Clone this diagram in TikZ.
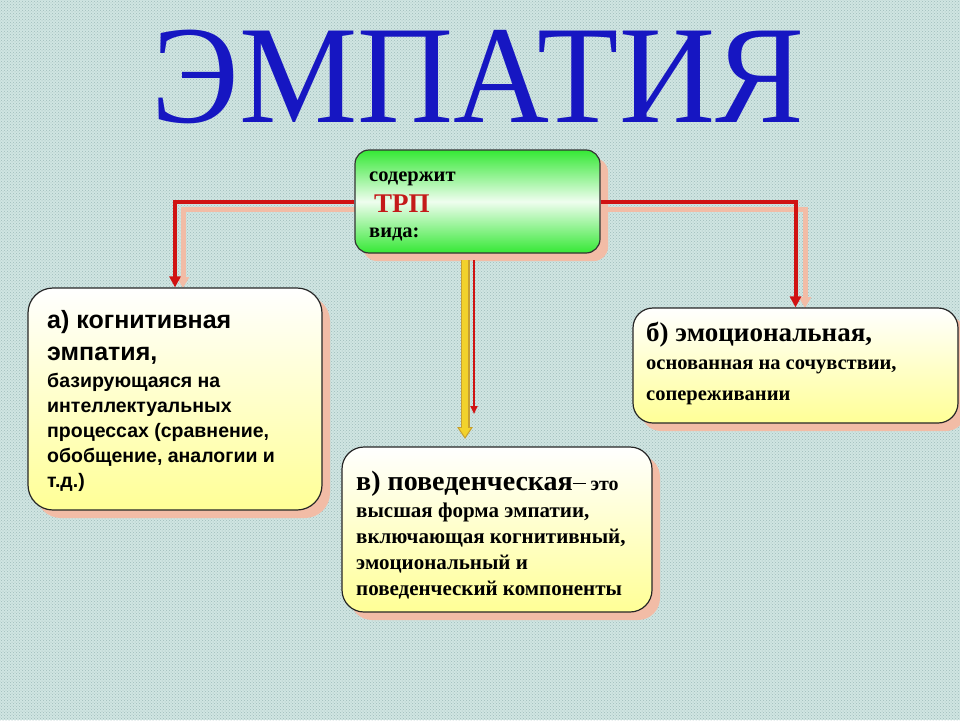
\documentclass[tikz,border=0pt]{standalone}
\usepackage{fontspec}
\setmainfont{Liberation Serif}
\newfontfamily\sansb{Liberation Sans}
\usetikzlibrary{arrows.meta,shadows,patterns}
\definecolor{bgc}{HTML}{D0E5E2}
\definecolor{dotc}{HTML}{5E8F8C}
\definecolor{shad}{HTML}{F2BCA6}
\definecolor{tblue}{HTML}{1616C2}
\definecolor{tred}{HTML}{C41A1A}
\definecolor{arrred}{HTML}{D01212}
\definecolor{gboxg}{HTML}{35E835}
\definecolor{ybox}{HTML}{FFFF96}
\definecolor{yarr}{HTML}{F2D22C}
\definecolor{yarrdark}{HTML}{C8A030}
\tikzset{
  boxshadow/.style={drop shadow={shadow xshift=8pt,shadow yshift=-8pt,fill=shad,opacity=1}},
  ybox/.style={draw=black!85,line width=1.2pt,boxshadow,top color=white,bottom color=ybox,inner sep=0pt},
  gbox/.style={draw=black!80,line width=1.2pt,boxshadow,top color=gboxg,bottom color=gboxg,middle color=white!92!gboxg,inner sep=0pt},
  txt/.style={anchor=base west,inner sep=0pt},
  redline/.style={draw=arrred,line width=4pt,-{Triangle[length=11pt,width=11pt]}},
  redshadow/.style={draw=shad,line width=5pt,-{Triangle[length=11pt,width=12pt]}},
}
\begin{document}
\begin{tikzpicture}[x=1pt,y=-1pt]
\fill[bgc] (0,0) rectangle (960,720);
\fill[pattern=crosshatch dots,pattern color=dotc!60] (0,0) rectangle (960,720);
\useasboundingbox (0,0) rectangle (960,720);

% title
\node[inner sep=0pt] (title) at (477.5,76.5) {\fontsize{133}{133}\selectfont\color{tblue}\scalebox{1}[1.05]{ЭМПАТИЯ}};

% connector shadows (behind boxes)
\coordinate (gw) at (355,201.5);
\coordinate (ge) at (600,201.5);
\draw[redshadow] ([shift={(8,8)}]gw) -| (183,288);
\draw[redshadow] ([shift={(0,8)}]ge) -| (805,308);

% boxes
\node[gbox,rounded corners=14pt,minimum width=245pt,minimum height=103pt] (g) at (477.5,201.5) {};
\node[ybox,rounded corners=25pt,minimum width=294pt,minimum height=222pt] (a) at (175,399) {};
\node[ybox,rounded corners=20pt,minimum width=325pt,minimum height=115pt] (b) at (795.5,365.5) {};
\node[ybox,rounded corners=22pt,minimum width=310pt,minimum height=165pt] (c) at (497,529.5) {};

% connectors
\draw[redline] (g.west) -| (a.north);
\draw[redline] (g.east) -| (b.north);

\coordinate (ytop) at (465,260);
\coordinate (yend) at (465,439);
\coordinate (rtop) at (474,260);
\coordinate (rend) at (474,414);
\draw[draw=yarrdark,line width=9pt,-{Triangle[length=12pt,width=15pt]}] (ytop) -- (yend);
\draw[draw=yarr,line width=6.5pt,shorten >=2pt,-{Triangle[length=9pt,width=11pt]}] (ytop) -- (yend);
\draw[draw=arrred,line width=2pt,-{Triangle[length=8pt,width=7pt]}] (rtop) -- (rend);

% texts green box
\node[txt] (g1) at (369,181) {\fontsize{20.5}{20.5}\selectfont\bfseries содержит};
\node[txt] (g2) at (374,212) {\fontsize{27}{27}\selectfont\bfseries\color{tred}ТРП};
\node[txt] (g3) at (369,237) {\fontsize{20.5}{20.5}\selectfont\bfseries вида:};

% texts box a
\node[txt] (a1) at (47,328) {\sansb\fontsize{25}{25}\selectfont\bfseries а) когнитивная};
\node[txt] (a2) at (47,360) {\sansb\fontsize{25}{25}\selectfont\bfseries эмпатия,};
\node[txt] (a3) at (47,387) {\sansb\fontsize{19.5}{19.5}\selectfont\bfseries базирующаяся на};
\node[txt] (a4) at (47,412) {\sansb\fontsize{19.5}{19.5}\selectfont\bfseries интеллектуальных};
\node[txt] (a5) at (47,437) {\sansb\fontsize{19.5}{19.5}\selectfont\bfseries процессах (сравнение,};
\node[txt] (a6) at (47,462) {\sansb\fontsize{19.5}{19.5}\selectfont\bfseries обобщение, аналогии и};
\node[txt] (a7) at (47,487) {\sansb\fontsize{19.5}{19.5}\selectfont\bfseries т.д.)};

% texts box b
\node[txt] (b1) at (646,341) {\fontsize{27}{27}\selectfont\bfseries б) эмоциональная,};
\node[txt] (b2) at (646,369) {\fontsize{20.5}{20.5}\selectfont\bfseries основанная на сочувствии,};
\node[txt] (b3) at (646,400) {\fontsize{20.5}{20.5}\selectfont\bfseries сопереживании};

% texts box c
\node[txt] (c1) at (356,490) {\fontsize{28}{28}\selectfont\bfseries в) поведенческая\raisebox{6pt}{\rule{13pt}{1.3pt}}\,{\fontsize{20}{20}\selectfont это}};
\node[txt] (c2) at (356,517) {\fontsize{21}{21}\selectfont\bfseries высшая форма эмпатии,};
\node[txt] (c3) at (356,543) {\fontsize{21}{21}\selectfont\bfseries включающая когнитивный,};
\node[txt] (c4) at (356,569) {\fontsize{21}{21}\selectfont\bfseries эмоциональный и};
\node[txt] (c5) at (356,595) {\fontsize{21}{21}\selectfont\bfseries поведенческий компоненты};
\end{tikzpicture}
\end{document}
